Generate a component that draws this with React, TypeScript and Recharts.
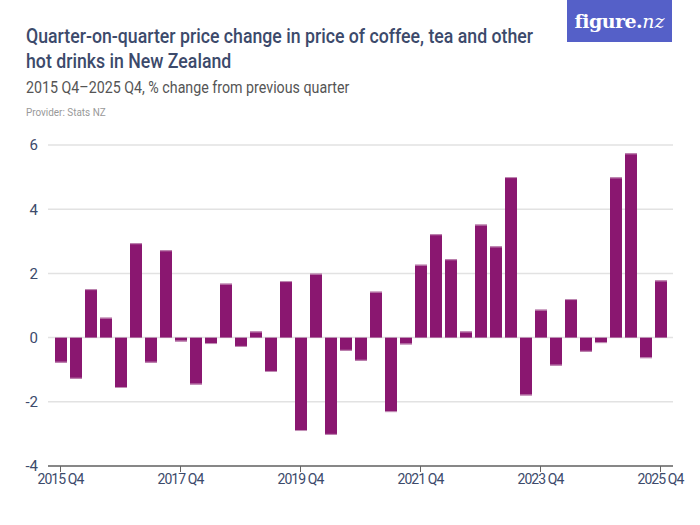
import React from 'react';
import { BarChart, Bar, XAxis, YAxis, CartesianGrid } from 'recharts';

// quarters from 2015 Q4 to 2025 Q4
const quarters = [
  '2015 Q4', '2016 Q1', '2016 Q2', '2016 Q3', '2016 Q4',
  '2017 Q1', '2017 Q2', '2017 Q3', '2017 Q4',
  '2018 Q1', '2018 Q2', '2018 Q3', '2018 Q4',
  '2019 Q1', '2019 Q2', '2019 Q3', '2019 Q4',
  '2020 Q1', '2020 Q2', '2020 Q3', '2020 Q4',
  '2021 Q1', '2021 Q2', '2021 Q3', '2021 Q4',
  '2022 Q1', '2022 Q2', '2022 Q3', '2022 Q4',
  '2023 Q1', '2023 Q2', '2023 Q3', '2023 Q4',
  '2024 Q1', '2024 Q2', '2024 Q3', '2024 Q4',
  '2025 Q1', '2025 Q2', '2025 Q3', '2025 Q4',
];

// % change from previous quarter
const changes = [
  -0.78, -1.28, 1.51, 0.62, -1.57,
  2.94, -0.78, 2.72, -0.12,
  -1.46, -0.2, 1.68, -0.29,
  0.19, -1.07, 1.76, -2.91,
  1.99, -3.03, -0.41, -0.72,
  1.43, -2.32, -0.21, 2.27,
  3.22, 2.44, 0.19, 3.52,
  2.84, 5.0, -1.8, 0.87,
  -0.87, 1.2, -0.44, -0.17,
  4.99, 5.74, -0.64, 1.78,
];

const xTicks = ['2015 Q4', '2017 Q4', '2019 Q4', '2021 Q4', '2023 Q4', '2025 Q4'];
const yTicks = [-4, -2, 0, 2, 4, 6];

const data = quarters.map((q, i) => ({ quarter: q, value: changes[i] }));

const BAR = '#8a1770';
const EDGE = '#c290b6';
const INK = '#3c4a6b';
const FONT = 'Roboto, "Noto Sans", sans-serif';

// bar with a thin lighter line at its outer end
const EdgedBar = (props: any) => {
  const { x, y, width, height, value } = props;
  if (height == null) return null;
  const top = Math.min(y, y + height);
  const h = Math.abs(height);
  const edgeY = value >= 0 ? top + 0.5 : top + h - 0.5;
  return (
    <g>
      <rect x={x} y={top} width={width} height={h} fill={BAR} />
      <line x1={x} x2={x + width} y1={edgeY} y2={edgeY} stroke={EDGE} strokeWidth={1} />
    </g>
  );
};

// narrow text block, squeezed horizontally from its left edge
const Narrow: React.FC<{ top: number; size: number; color: string; weight?: number; scale: number; lh?: number; children: React.ReactNode }> = ({ top, size, color, weight = 400, scale, lh, children }) => (
  <div
    style={{
      position: 'absolute', left: 26, top, fontSize: size, color, fontWeight: weight,
      lineHeight: lh ? `${lh}px` : 'normal', whiteSpace: 'nowrap',
      transform: `scaleX(${scale})`, transformOrigin: 'left top',
    }}
  >
    {children}
  </div>
);

const App: React.FC = () => {
  return (
    <div style={{ position: 'absolute', left: 0, top: 0, width: 700, height: 525, background: '#fff', fontFamily: FONT }}>
      <Narrow top={24} size={21} color={INK} weight={500} scale={0.843} lh={25}>
        Quarter-on-quarter price change in price of coffee, tea and other<br />hot drinks in New Zealand
      </Narrow>
      <Narrow top={78} size={16} color="#555" scale={0.89}>
        2015 Q4–2025 Q4, % change from previous quarter
      </Narrow>
      <Narrow top={106} size={11} color="#999" scale={0.9}>
        Provider: Stats NZ
      </Narrow>
      <div style={{ position: 'absolute', left: 567, top: 0, width: 105, height: 42, background: '#5560c8', color: '#fff', display: 'flex', alignItems: 'center', justifyContent: 'center', fontFamily: '"DejaVu Serif", serif', fontSize: 19 }}>
        <span style={{ fontWeight: 700, letterSpacing: -0.5 }}>figure.</span><i>nz</i>
      </div>
      <BarChart width={700} height={525} data={data} margin={{ top: 145, right: 27, bottom: 29, left: 0 }} barSize={12}>
        <CartesianGrid vertical={false} stroke="#e2e2e2" strokeWidth={1.5} />
        <XAxis
          dataKey="quarter"
          ticks={xTicks}
          interval={0}
          height={30}
          padding={{ left: 5, right: 5 }}
          axisLine={{ stroke: '#666', strokeWidth: 1.5 }}
          tickLine={{ stroke: '#666' }}
          tickSize={6}
          tick={{ fill: INK, fontSize: 14, fontFamily: FONT, letterSpacing: -0.9 }}
        />
        <YAxis
          domain={[-4, 6]}
          ticks={yTicks}
          width={48}
          axisLine={false}
          tickLine={false}
          tickSize={0}
          tickMargin={10}
          tick={{ fill: INK, fontSize: 15, fontFamily: FONT }}
        />
        <Bar dataKey="value" fill={BAR} shape={EdgedBar} isAnimationActive={false} />
      </BarChart>
    </div>
  );
};

export default App;
